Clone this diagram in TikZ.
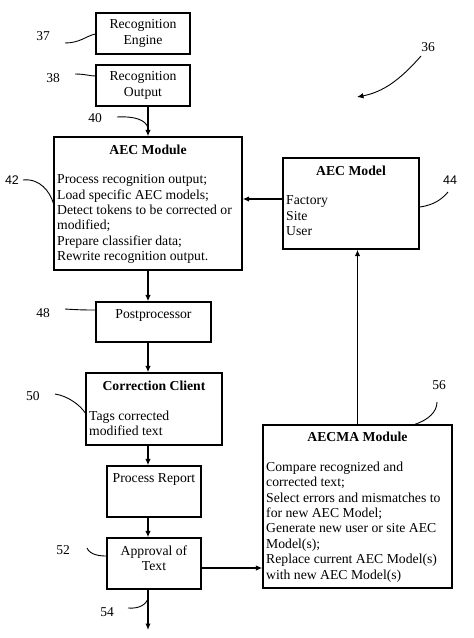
\documentclass[tikz,border=0pt]{standalone}
\usepackage{fontspec}
\setmainfont{Liberation Serif}
\newfontfamily\labsans{Liberation Sans}
\usetikzlibrary{arrows.meta}
\begin{document}
\begin{tikzpicture}[x=1pt,y=-1pt,
  box/.style={draw, line width=1.4pt, inner sep=0pt},
  txt/.style={inner sep=0pt, font=\fontsize{13.7}{15.4}\selectfont},
  btxt/.style={inner sep=0pt, font=\fontsize{13.7}{15.4}\selectfont\bfseries},
  lab/.style={inner sep=0pt, font=\fontsize{13.5}{15}\selectfont},
  flow/.style={line width=1.2pt, -{Latex[length=6.5pt,width=5.5pt]}},
  lead/.style={line width=0.9pt}]
\useasboundingbox (0,0) rectangle (474,638);
% boxes
\node[box, txt, minimum width=94pt, minimum height=41pt, align=center] (eng) at (143,33.5) {Recognition\\Engine};
\node[box, txt, minimum width=94pt, minimum height=41pt, align=center] (out) at (143,85.5) {Recognition\\Output};
\node[box, minimum width=188pt, minimum height=133pt] (aec) at (148,203.5) {};
\node[box, minimum width=136pt, minimum height=91pt] (model) at (351,203.5) {};
\node[box, minimum width=115pt, minimum height=40pt] (post) at (153.5,322) {};
\node[box, minimum width=136pt, minimum height=72pt] (cc) at (154,409) {};
\node[box, minimum width=94pt, minimum height=51pt] (pr) at (154,491.5) {};
\node[box, minimum width=94pt, minimum height=51pt] (appr) at (154,563.5) {};
\node[box, minimum width=189pt, minimum height=163pt] (aecma) at (357.5,506.5) {};
% texts
\node[btxt, anchor=base] (aect) at (148,154.5) {AEC Module};
\node[txt, anchor=north west, align=left] (aecb) at (57,174.5) {Process recognition output;\\Load specific AEC models;\\Detect tokens to be corrected or\\modified;\\Prepare classifier data;\\Rewrite recognition output.};
\node[btxt, anchor=base] (modelt) at (351,175.5) {AEC Model};
\node[txt, anchor=north west, align=left] (modelb) at (286,195.5) {Factory\\Site\\User};
\node[txt, anchor=base] (postt) at (153.5,318.5) {Postprocessor};
\node[btxt, anchor=base] (cct) at (154,390.5) {Correction Client};
\node[txt, anchor=north west, align=left] (ccb) at (89,410.5) {Tags corrected\\modified text};
\node[txt, anchor=base] (prt) at (154,482.5) {Process Report};
\node[txt, align=center] (apprt) at (154,558) {Approval of\\Text};
\node[btxt, anchor=base] (aecmat) at (357.5,441.5) {AECMA Module};
\node[txt, anchor=north west, align=left] (aecmab) at (266,461.5) {Compare recognized and\\corrected text;\\Select errors and mismatches to\\for new AEC Model;\\Generate new user or site AEC\\Model(s);\\Replace current AEC Model(s)\\with new AEC Model(s)};
% flow connectors
\draw[flow] (out.south -| aec.north) -- (aec.north);
\draw[flow] ([yshift=4.5pt]model.west) -- ([yshift=4.5pt]model.west -| aec.east);
\draw[flow] (aec.south) -- (post.north -| aec.south);
\draw[flow] (post.south -| aec.south) -- (cc.north -| aec.south);
\draw[flow] (cc.south -| aec.south) -- (pr.north -| aec.south);
\draw[flow] (pr.south -| aec.south) -- (appr.north -| aec.south);
\coordinate (endout) at (148,630);
\draw[flow] (appr.south -| aec.south) -- (endout);
\draw[flow] ([yshift=-4.5pt]appr.east) -- ([yshift=-4.5pt]appr.east -| aecma.west);
\draw[flow] (aecma.north) -- (aecma.north |- model.south);
% labels
\node[lab] (l37) at (43,36) {37};
\node[lab] (l38) at (53,78) {38};
\node[lab] (l36) at (428,47) {36};
\node[lab] (l40) at (95,118) {40};
\node[lab, font=\fontsize{12.5}{14}\labsans] (l42) at (12,180) {42};
\node[lab, font=\fontsize{12.5}{14}\labsans] (l44) at (450,180) {44};
\node[lab] (l48) at (43,313) {48};
\node[lab] (l50) at (33,396) {50};
\node[lab] (l56) at (439,385) {56};
\node[lab] (l52) at (63,550) {52};
\node[lab] (l54) at (107,612) {54};
% leaders
\coordinate (s37) at (65,43);
\draw[lead] (s37) .. controls (80,43) and (86,36) .. (eng.west |- 0,34);
\coordinate (s38) at (75,74);
\draw[lead] (s38) .. controls (85,74) and (90,76) .. (out.west |- 0,76);
\coordinate (s36) at (421,56);
\coordinate (e36) at (357,97);
\draw[line width=0.9pt, -{Latex[length=6.5pt,width=5.5pt]}] (s36) .. controls (400,80) and (383,92) .. (e36);
\coordinate (s40) at (117,117);
\coordinate (e40) at (148,128);
\draw[lead] (s40) .. controls (135,116) and (146,120) .. (e40);
\coordinate (s42) at (23,180);
\draw[lead] (s42) .. controls (40,178) and (50,192) .. (aec.west |- 0,203);
\coordinate (s44) at (448,192);
\draw[lead] (s44) .. controls (443,198) and (435,205) .. (model.east |- 0,207);
\coordinate (s48) at (65,309);
\draw[lead] (s48) .. controls (80,310) and (88,310) .. (post.west |- 0,310);
\coordinate (s50) at (55,394);
\draw[lead] (s50) .. controls (68,396) and (80,405) .. (cc.west |- 0,413);
\coordinate (s56) at (437,402);
\draw[lead] (s56) .. controls (437,412) and (428,420) .. (aecma.north -| 415,0);
\coordinate (s52) at (87,548);
\draw[lead] (s52) .. controls (90,555) and (100,556) .. (appr.west |- 0,556);
\coordinate (s54) at (128,608);
\coordinate (e54) at (148,599);
\draw[lead] (s54) .. controls (140,609) and (146,604) .. (e54);
\end{tikzpicture}
\end{document}
